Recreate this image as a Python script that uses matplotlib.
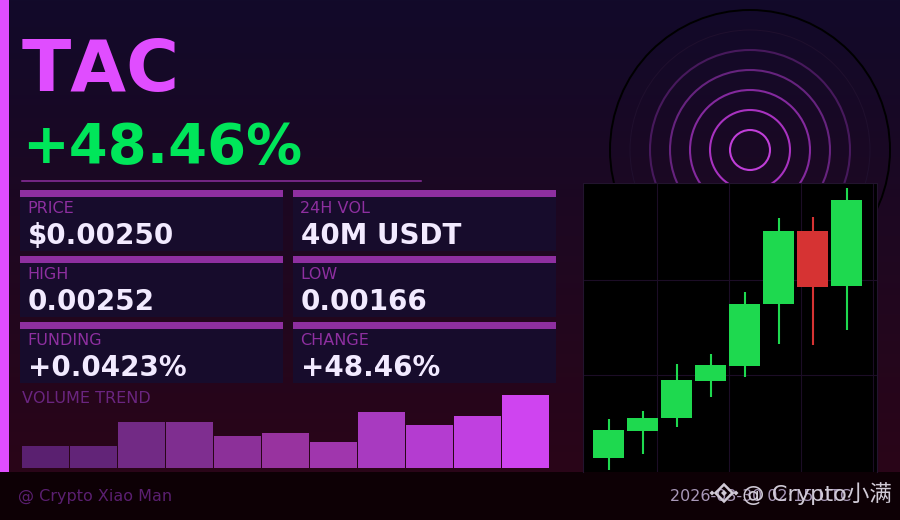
import numpy as np
import matplotlib
matplotlib.use("Agg")
import matplotlib.pyplot as plt
from matplotlib.patches import Circle, Rectangle, RegularPolygon

plt.rcParams['font.family'] = ['DejaVu Sans', 'Noto Sans CJK SC']
plt.rcParams['text.kerning_factor'] = 6

W, H = 900, 520

# data
symbol = "TAC"
change_txt = "+48.46%"
card_labels = ["PRICE", "24H VOL", "HIGH", "LOW", "FUNDING", "CHANGE"]
card_values = ["$0.00250", "40M USDT", "0.00252", "0.00166", "+0.0423%", "+48.46%"]

volumes = [2.2, 2.2, 4.6, 4.6, 3.2, 3.5, 2.6, 5.6, 4.3, 5.2, 7.3]
vol_colors = ["#5a2070", "#622478", "#722a85", "#7f2e90", "#8c3099", "#98339f",
              "#a036ad", "#a83ac0", "#b43cd0", "#c040e0", "#cf44f0"]

opens = [0.001697, 0.001779, 0.001818, 0.001931, 0.001977, 0.002166, 0.002389, 0.002221]
closes = [0.001782, 0.001818, 0.001934, 0.001980, 0.002166, 0.002389, 0.002218, 0.002483]
highs = [0.001815, 0.001840, 0.001983, 0.002014, 0.002203, 0.002428, 0.002432, 0.002520]
lows = [0.001660, 0.001709, 0.001791, 0.001883, 0.001944, 0.002044, 0.002041, 0.002087]
grid_x = [1.42, 3.54, 5.66, 7.78]
grid_y = [0.00195, 0.00224]

ring_radii = [20, 40, 60, 80, 100, 120]
ring_colors = ["#c03ed8", "#a832c0", "#84299e", "#66237e", "#47195c", "#20102e"]

fig = plt.figure(figsize=(9, 5.2), dpi=100)


def px_axes(x0, y0, x1, y1, z):
    # axes placed with pixel coordinates, y from the top
    return fig.add_axes([x0 / W, 1 - y1 / H, (x1 - x0) / W, (y1 - y0) / H], zorder=z)


ax = fig.add_axes([0, 0, 1, 1], zorder=1)
ax.set_xlim(0, W)
ax.set_ylim(H, 0)
ax.axis('off')

# background
top = np.array([18, 10, 42]) / 255
bot = np.array([42, 5, 24]) / 255
t = np.linspace(0, 1, 472)[:, None, None]
grad = top * (1 - t) + bot * t
ax.imshow(grad, extent=(0, W, 472, 0), aspect='auto', zorder=0)
ax.set_xlim(0, W)
ax.set_ylim(H, 0)
ax.add_patch(Rectangle((0, 472), W, 48, color="#0d0005", lw=0, zorder=1))
ax.add_patch(Rectangle((0, 0), 9, 472, color="#e04dff", lw=0, zorder=1))

# rings
for r, c in zip(ring_radii, ring_colors):
    lw = 0.7 if r == 120 else 1.5
    ax.add_patch(Circle((750, 150), r, fill=False, ec=c, lw=lw, zorder=2))
ax.add_patch(Circle((750, 150), 140, fill=False, ec="#000000", lw=1.4, zorder=2))

# header
ax.text(22, 91, symbol, color="#e04dff", fontsize=52, fontweight='bold', va='baseline', zorder=3)
ax.text(22, 163, change_txt, color="#00e65a", fontsize=40.3, fontweight='bold', va='baseline', zorder=3)
ax.plot([22, 421], [181, 181], color="#8e2fa0", lw=1.1, zorder=3)

# cards
for i in range(6):
    cx = 20 if i % 2 == 0 else 293
    cy = 190 + 66 * (i // 2)
    ax.add_patch(Rectangle((cx, cy), 263, 61, color="#170c2c", lw=0, zorder=2))
    ax.add_patch(Rectangle((cx, cy), 263, 7, color="#8e2fa0", lw=0, zorder=3))
    ax.text(cx + 7.5, cy + 23, card_labels[i], color="#8e2fa0", fontsize=11.5, va='baseline', zorder=3)
    ax.text(cx + 8, cy + 54, card_values[i], color="#f2eaff", fontsize=20, fontweight='bold',
            va='baseline', zorder=3)

ax.text(22, 403, "VOLUME TREND", color="#6a2580", fontsize=11.5, va='baseline', zorder=3)

# volume bars
ax_v = px_axes(21.5, 390, 549.5, 468, 2)
ax_v.bar(range(len(volumes)), volumes, width=0.98, color=vol_colors, lw=0)
ax_v.set_xlim(-0.5, 10.5)
ax_v.set_ylim(0, 7.8)
ax_v.axis('off')

# candles
ax_c = px_axes(583, 183, 877, 472, 3)
ax_c.set_facecolor("#000000")
x = np.arange(len(opens))
for i in x:
    col = "#1ed94f" if closes[i] >= opens[i] else "#d63333"
    ax_c.plot([i, i], [lows[i], highs[i]], color=col, lw=1.5, solid_capstyle='butt', zorder=3)
    ax_c.bar(i, abs(closes[i] - opens[i]), bottom=min(opens[i], closes[i]), width=0.91,
             color=col, lw=0, zorder=4)
ax_c.set_xlim(-0.753, 7.894)
ax_c.set_ylim(0.001654, 0.002535)
ax_c.set_xticks(grid_x)
ax_c.set_yticks(grid_y)
ax_c.tick_params(length=0, labelbottom=False, labelleft=False)
ax_c.grid(True, color="#1c0d26", lw=0.8, zorder=1)
ax_c.set_axisbelow(True)
for s in ax_c.spines.values():
    s.set_color("#22142e")
    s.set_linewidth(0.8)
ax_c.spines['bottom'].set_visible(False)

# footer
ax.text(18, 501, "@ Crypto Xiao Man", color="#5a1f70", fontsize=11.5, va='baseline', zorder=3)
ax.text(851, 501, "2026-03-30 02:15 UTC", color="#a898b8", fontsize=11.5, va='baseline', ha='right', zorder=3)

# watermark
wm = "#d0cad6"
ax.add_patch(RegularPolygon((724, 493), 4, radius=8.5, fill=False, ec=wm, lw=1.8, zorder=4))
ax.add_patch(RegularPolygon((724, 493), 4, radius=3, color=wm, lw=0, zorder=4))
ax.add_patch(RegularPolygon((712, 493), 4, radius=2.5, color=wm, lw=0, zorder=4))
ax.add_patch(RegularPolygon((736, 493), 4, radius=2.5, color=wm, lw=0, zorder=4))
ax.text(742, 501, "@ Crypto小满", color=wm, fontsize=16.2, va='baseline', zorder=4)

fig.savefig("out.png", dpi=100)
